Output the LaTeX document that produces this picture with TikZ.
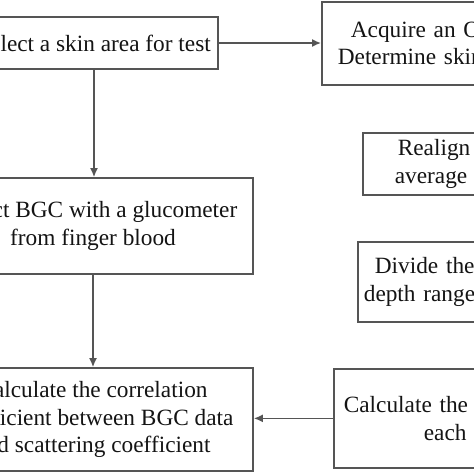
\documentclass[tikz,border=0pt]{standalone}
\usepackage{fontspec}
\setmainfont{Liberation Serif}
\usetikzlibrary{arrows.meta}
\definecolor{linegray}{HTML}{555555}
\definecolor{textdark}{HTML}{141414}
\tikzset{
  box/.style={draw=linegray, line width=1.7pt, rectangle, inner ysep=0pt,
    font=\fontsize{23.3pt}{27.5pt}\selectfont, text=textdark},
  arr/.style={draw=linegray, line width=1.5pt, -{Latex[length=9pt,width=8pt]}},
}
\begin{document}
\begin{tikzpicture}
\useasboundingbox (0,0) rectangle (474pt,-474pt);
\clip (0,0) rectangle (474pt,-474pt);
\fill[white] (0,0) rectangle (474pt,-474pt);
% left column
\node[box, minimum width=248pt, minimum height=52pt, align=center] (b1) at (94pt,-43pt) {Select a skin area for test};
\node[box, minimum width=320pt, minimum height=96pt, align=center] (b3) at (93pt,-226pt) {Detect BGC with a glucometer\\from finger blood};
\node[box, minimum width=320pt, minimum height=103pt, align=center] (b4) at (93pt,-419.5pt) {Calculate the correlation\\coefficient between BGC data\\and scattering coefficient};
% right column
\node[box, anchor=north west, minimum height=83pt, inner xsep=16pt, text width=268pt, align=left] (b2) at (321pt,-1pt) {\hspace*{13pt}Acquire an O\\Determine skin};
\node[box, anchor=north west, minimum height=62pt, inner xsep=32pt, text width=236pt, align=left] (b5) at (362pt,-132pt) {\hspace*{3pt}Realign\\average};
\node[box, anchor=north west, minimum height=80pt, inner xsep=6pt, text width=288pt, align=left] (b6) at (357pt,-241pt) {\hspace*{11pt}Divide the\\depth range};
\node[box, anchor=north west, minimum height=99pt, inner xsep=10pt, text width=280pt, align=left] (b7) at (333pt,-368pt) {Calculate the s\\\hspace*{80pt}each s};
% connectors
\draw[arr] (b1.east) -- (b1.east -| b2.west);
\draw[arr] (b1.south) -- (b1.south |- b3.north);
\draw[arr] (b3.south) -- (b3.south |- b4.north);
\draw[arr] (b7.west) -- (b7.west -| b4.east);
\end{tikzpicture}
\end{document}
